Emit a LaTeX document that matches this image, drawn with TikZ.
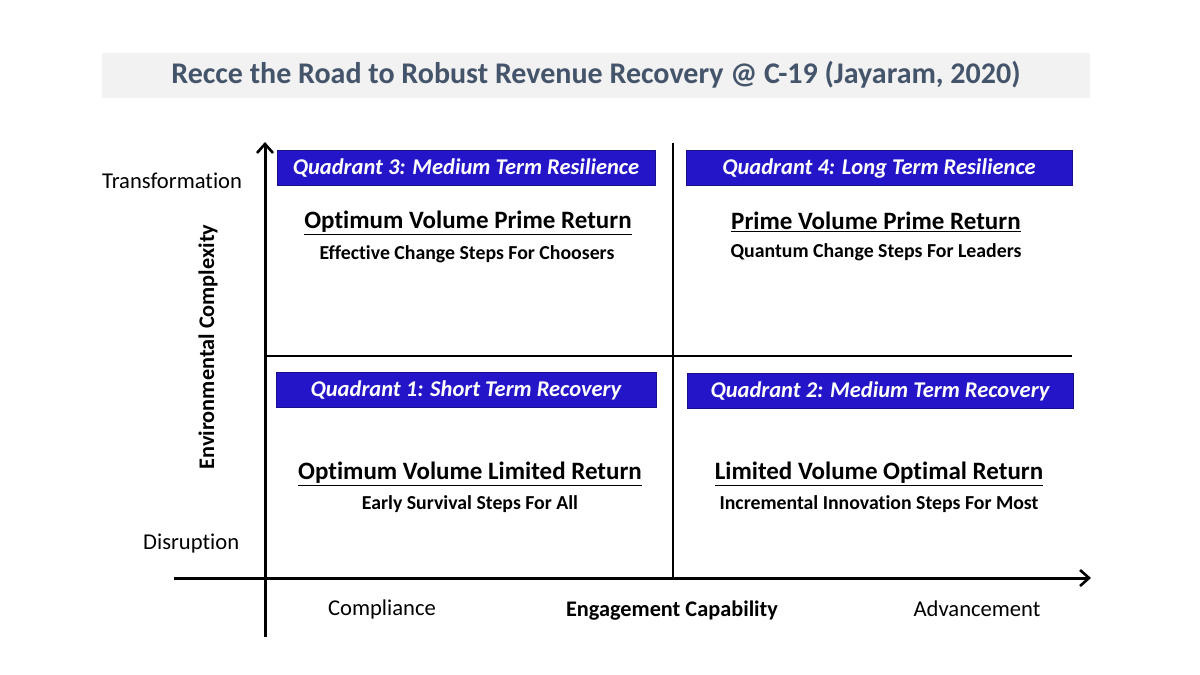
\documentclass[tikz,border=0pt]{standalone}
\usepackage{fontspec}
\setmainfont[Ligatures={NoCommon}]{Carlito}
\usetikzlibrary{arrows.meta}
\definecolor{titlegray}{HTML}{F2F2F2}
\definecolor{titletext}{HTML}{44546A}
\definecolor{bannerblue}{RGB}{36,22,200}
\tikzset{
  axis/.style={line width=3pt, -{Straight Barb[length=9pt,width=16pt,line width=2.6pt]}},
  divider/.style={line width=2.6pt},
  banner/.style={fill=bannerblue, draw=bannerblue!70!black, line width=0.6pt, minimum height=35pt, inner sep=0pt,
    text=white, font=\fontsize{22.5}{26}\selectfont\bfseries\itshape},
  heading/.style={font=\fontsize{25}{29}\selectfont\bfseries, inner sep=0pt},
  sub/.style={font=\fontsize{19.8}{23}\selectfont\bfseries, inner sep=0pt},
  lab/.style={font=\fontsize{22.6}{26}\selectfont, inner sep=0pt},
  blab/.style={font=\fontsize{22.3}{26}\selectfont\bfseries, inner sep=0pt}
}
\begin{document}
\begin{tikzpicture}[x=1pt,y=-1pt]
\useasboundingbox (0,0) rectangle (1200,675);
\fill[white] (0,0) rectangle (1200,675);
% title
\node[fill=titlegray, minimum width=988pt, minimum height=45pt, inner sep=0pt,
  text=titletext, font=\fontsize{30}{34}\selectfont\bfseries] (title) at (596,75)
  {Recce the Road to Robust Revenue Recovery @ C-19 (Jayaram, 2020)};
% axes
\coordinate (ybot) at (265,637);
\coordinate (ytop) at (265,142);
\coordinate (xleft) at (174,578);
\coordinate (xright) at (1091,578);
\coordinate (mtop) at (673,143);
\coordinate (mbot) at (673,578);
\coordinate (hleft) at (265,356);
\coordinate (hright) at (1072,356);
\draw[axis] (ybot) -- (ytop);
\draw[axis] (xleft) -- (xright);
\draw[divider] (mtop) -- (mbot);
\draw[divider] (hleft) -- (hright);
% banners
\node[banner, minimum width=378pt] (b3) at (466,168) {Quadrant 3: Medium Term Resilience};
\node[banner, minimum width=386pt] (b4) at (879,168) {Quadrant 4: Long Term Resilience};
\node[banner, minimum width=380pt] (b1) at (466,390) {Quadrant 1: Short Term Recovery};
\node[banner, minimum width=386pt] (b2) at (880,391) {Quadrant 2: Medium Term Recovery};
% quadrant texts
\node[heading] (h3) at (468,223) {\underline{Optimum Volume Prime Return}};
\node[sub] (s3) at (467,254) {Effective Change Steps For Choosers};
\node[heading] (h4) at (876,222) {\underline{Prime Volume Prime Return}};
\node[sub] (s4) at (876,252) {Quantum Change Steps For Leaders};
\node[heading] (h1) at (470,474) {\underline{Optimum Volume Limited Return}};
\node[sub] (s1) at (470,504) {Early Survival Steps For All};
\node[heading] (h2) at (879,474) {\underline{Limited Volume Optimal Return}};
\node[sub] (s2) at (879,504) {Incremental Innovation Steps For Most};
% axis labels
\node[lab, anchor=west] (tr) at (102,181) {Transformation};
\node[lab, anchor=west] (dis) at (143,544) {Disruption};
\node[blab, rotate=90] (env) at (208,347) {Environmental Complexity};
\node[lab] (comp) at (382,609) {Compliance};
\node[blab] (eng) at (672,611) {Engagement Capability};
\node[lab] (adv) at (977,609) {Advancement};
\end{tikzpicture}
\end{document}
